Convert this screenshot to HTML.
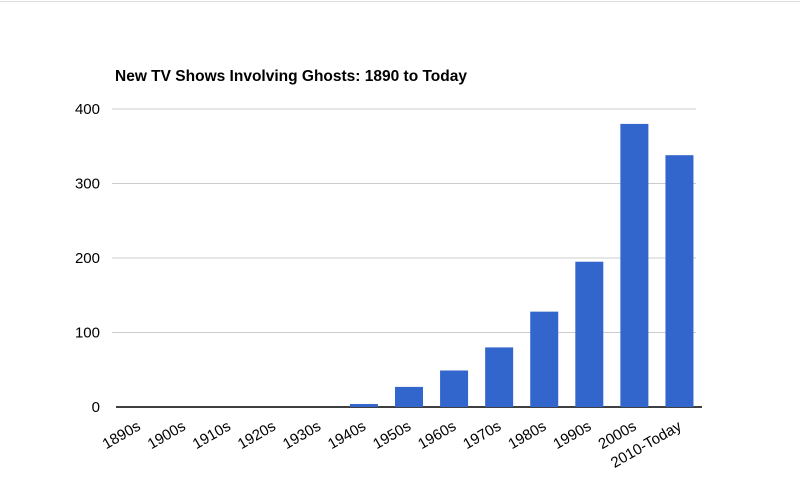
<!DOCTYPE html>
<html><head><meta charset="utf-8"><style>
body{margin:0;background:#fff;}
svg{display:block;font-family:"Liberation Sans",Arial,sans-serif;}
</style></head><body>
<svg id="chart" width="800" height="500">
<line x1="0" y1="1.5" x2="800" y2="1.5" stroke="#ddd"/>
<text x="115" y="81" font-size="15.5" font-weight="bold" fill="#000">New TV Shows Involving Ghosts: 1890 to Today</text>
<g id="grid"></g><g id="bars"></g><g id="labels"></g>
</svg>
<script>
const categories=["1890s","1900s","1910s","1920s","1930s","1940s","1950s","1960s","1970s","1980s","1990s","2000s","2010-Today"];
const values=[0,0,0,0,0,4,27,49,80,128,195,380,338];
const yTicks=[0,100,200,300,400];
const NS="http://www.w3.org/2000/svg";
const x0=116,x1=702,yZero=407,yTop=109,yMax=400;
const band=(x1-x0)/categories.length;
const y=v=>yZero-(v/yMax)*(yZero-yTop);
const xc=i=>x0+band*(i+0.5);
function mk(t,a,p){const e=document.createElementNS(NS,t);for(const k in a)e.setAttribute(k,a[k]);p.appendChild(e);return e;}
const g=document.getElementById('grid'),b=document.getElementById('bars'),l=document.getElementById('labels');
yTicks.forEach(v=>{
 if(v>0){const ln=mk('line',{x1:x0-4,x2:x1-6,y1:y(v),y2:y(v),stroke:'#ccc'},g);
 
 }
 const t=mk('text',{x:100,y:y(v)+5,'text-anchor':'end','font-size':15,fill:'#000'},g);t.textContent=v;
 
 
});
values.forEach((v,i)=>{
 const r=mk('rect',{x:xc(i)-14,y:y(v),width:28,height:yZero-y(v),fill:'#3366cc'},b);
 
 
 const t=mk('text',{transform:`translate(${xc(i)+3},${yZero+22}) rotate(-30)`,'text-anchor':'end','font-size':15,fill:'#000'},l);
 t.textContent=categories[i];
 
 
});
const ax=mk('line',{x1:x0,x2:x1,y1:yZero,y2:yZero,stroke:'#000','stroke-width':1.5},g);


</script>
</body></html>
